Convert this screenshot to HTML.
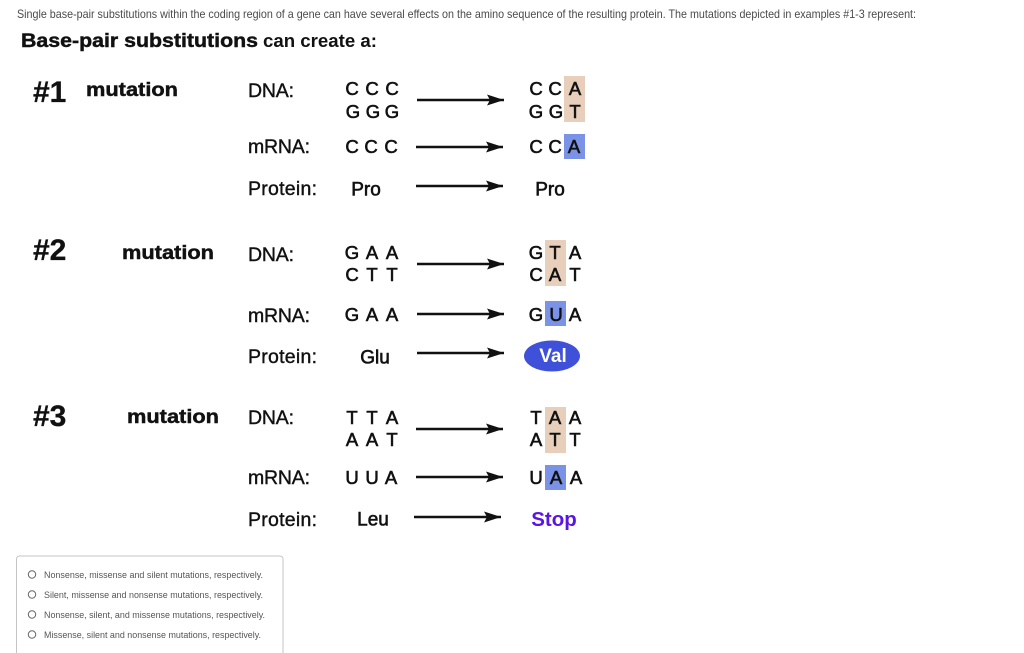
<!DOCTYPE html>
<html><head><meta charset="utf-8"><style>
html,body{margin:0;padding:0;background:#fff;width:1024px;height:653px;overflow:hidden}
svg{display:block}
text{font-family:"Liberation Sans",Arial,sans-serif;fill:#111}
.l{font-size:19.5px;stroke:#111;stroke-width:.4px}
.n{font-size:18.5px;text-anchor:middle;stroke:#111;stroke-width:.6px}
.h{font-size:30px;font-weight:bold;stroke:#111;stroke-width:.3px}
.m{font-size:19px;font-weight:bold;stroke:#111;stroke-width:.45px}
.o{font-size:9px;fill:#555}
.a{stroke:#111;stroke-width:2.4px}
</style></head><body>
<svg width="1024" height="653" viewBox="0 0 1024 653" xmlns="http://www.w3.org/2000/svg">
<defs><marker id="ah" markerUnits="userSpaceOnUse" markerWidth="18" markerHeight="12" refX="17" refY="6" orient="auto"><path d="M0 0.500L17 6L0 11.500L3 6Z" fill="#111"/></marker></defs>
<text x="17" y="18" font-size="12" style="fill:#4a4a4a" textLength="899" lengthAdjust="spacingAndGlyphs">Single base-pair substitutions within the coding region of a gene can have several effects on the amino sequence of the resulting protein. The mutations depicted in examples #1-3 represent:</text>
<text x="21" y="47" class="m" textLength="237" lengthAdjust="spacingAndGlyphs">Base-pair substitutions</text>
<text x="263" y="47" font-size="18" font-weight="bold" textLength="114" lengthAdjust="spacingAndGlyphs">can create a:</text>

<text x="33" y="102" class="h">#1</text><text x="33" y="260" class="h">#2</text><text x="33" y="426" class="h">#3</text>
<text x="86" y="96" class="m" textLength="92" lengthAdjust="spacingAndGlyphs">mutation</text>
<text x="122" y="259" class="m" textLength="92" lengthAdjust="spacingAndGlyphs">mutation</text>
<text x="127" y="423" class="m" textLength="92" lengthAdjust="spacingAndGlyphs">mutation</text>

<g>
<text class="l" x="248" y="97" textLength="46">DNA:</text><text class="l" x="248" y="153" textLength="62">mRNA:</text><text class="l" x="248" y="195" textLength="69">Protein:</text>
<text class="l" x="248" y="261" textLength="46">DNA:</text><text class="l" x="248" y="322" textLength="62">mRNA:</text><text class="l" x="248" y="363" textLength="69">Protein:</text>
<text class="l" x="248" y="424" textLength="46">DNA:</text><text class="l" x="248" y="484" textLength="62">mRNA:</text><text class="l" x="248" y="526" textLength="69">Protein:</text>
</g>

<rect x="564" y="76" width="21" height="46" fill="#e8cfbb"/>
<rect x="564" y="134" width="21" height="25" fill="#7b93e6"/>
<rect x="545" y="240" width="21" height="46" fill="#e8cfbb"/>
<rect x="545" y="301" width="21" height="25" fill="#7b93e6"/>
<rect x="545" y="407" width="21" height="46" fill="#e8cfbb"/>
<rect x="545" y="465" width="21" height="25" fill="#7b93e6"/>

<g>
<text class="n" x="352" y="95">C</text><text class="n" x="372" y="95">C</text><text class="n" x="392" y="95">C</text>
<text class="n" x="353" y="118">G</text><text class="n" x="373" y="118">G</text><text class="n" x="392" y="118">G</text>
<text class="n" x="352" y="153">C</text><text class="n" x="371" y="153">C</text><text class="n" x="391" y="153">C</text>
<text class="n" x="366" y="195.500" style="font-size:19px">Pro</text>
<text class="n" x="352" y="259">G</text><text class="n" x="372" y="259">A</text><text class="n" x="392" y="259">A</text>
<text class="n" x="352" y="281">C</text><text class="n" x="372" y="281">T</text><text class="n" x="392" y="281">T</text>
<text class="n" x="352" y="321">G</text><text class="n" x="372" y="321">A</text><text class="n" x="392" y="321">A</text>
<text class="n" x="375" y="363.500" style="font-size:19px">Glu</text>
<text class="n" x="352" y="424">T</text><text class="n" x="372" y="424">T</text><text class="n" x="392" y="424">A</text>
<text class="n" x="352" y="446">A</text><text class="n" x="372" y="446">A</text><text class="n" x="392" y="446">T</text>
<text class="n" x="352" y="484">U</text><text class="n" x="372" y="484">U</text><text class="n" x="391" y="484">A</text>
<text class="n" x="373" y="525.500" style="font-size:19px">Leu</text>

<text class="n" x="536" y="95">C</text><text class="n" x="555" y="95">C</text><text class="n" x="575" y="95">A</text>
<text class="n" x="536" y="118">G</text><text class="n" x="556" y="118">G</text><text class="n" x="575" y="118">T</text>
<text class="n" x="536" y="153">C</text><text class="n" x="555" y="153">C</text><text class="n" x="574" y="153">A</text>
<text class="n" x="550" y="195.500" style="font-size:19px">Pro</text>
<text class="n" x="536" y="259">G</text><text class="n" x="555" y="259">T</text><text class="n" x="575" y="259">A</text>
<text class="n" x="536" y="281">C</text><text class="n" x="555" y="281">A</text><text class="n" x="575" y="281">T</text>
<text class="n" x="536" y="321">G</text><text class="n" x="556" y="321">U</text><text class="n" x="575" y="321">A</text>
<text class="n" x="536" y="424">T</text><text class="n" x="555" y="424">A</text><text class="n" x="575" y="424">A</text>
<text class="n" x="536" y="446">A</text><text class="n" x="555" y="446">T</text><text class="n" x="575" y="446">T</text>
<text class="n" x="536" y="484">U</text><text class="n" x="556" y="484">A</text><text class="n" x="576" y="484">A</text>
</g>

<ellipse cx="552" cy="356" rx="28" ry="15.5" fill="#3f51d9"/>
<text x="553" y="362" font-size="19" font-weight="bold" text-anchor="middle" style="fill:#fff">Val</text>
<text x="554" y="526" font-size="20.500" font-weight="bold" text-anchor="middle" style="fill:#5a14e6">Stop</text>

<g class="a">
<line x1="417" y1="100" x2="504" y2="100" marker-end="url(#ah)"/>
<line x1="416" y1="147" x2="503" y2="147" marker-end="url(#ah)"/>
<line x1="416" y1="186" x2="503" y2="186" marker-end="url(#ah)"/>
<line x1="417" y1="264" x2="504" y2="264" marker-end="url(#ah)"/>
<line x1="417" y1="314" x2="504" y2="314" marker-end="url(#ah)"/>
<line x1="417" y1="353" x2="504" y2="353" marker-end="url(#ah)"/>
<line x1="416" y1="429" x2="503" y2="429" marker-end="url(#ah)"/>
<line x1="416" y1="477" x2="503" y2="477" marker-end="url(#ah)"/>
<line x1="414" y1="517" x2="501" y2="517" marker-end="url(#ah)"/>
</g>

<path d="M16.500 660V559a3 3 0 0 1 3-3H280a3 3 0 0 1 3 3V660" fill="#fff" stroke="#c4c4c4"/>
<g fill="#fff" stroke="#666">
<circle cx="32" cy="574.500" r="3.700"/><circle cx="32" cy="594.500" r="3.700"/><circle cx="32" cy="614.500" r="3.700"/><circle cx="32" cy="634.500" r="3.700"/>
</g>
<text class="o" x="44" y="578" textLength="219" lengthAdjust="spacingAndGlyphs">Nonsense, missense and silent mutations, respectively.</text>
<text class="o" x="44" y="598" textLength="219" lengthAdjust="spacingAndGlyphs">Silent, missense and nonsense mutations, respectively.</text>
<text class="o" x="44" y="618" textLength="221" lengthAdjust="spacingAndGlyphs">Nonsense, silent, and missense mutations, respectively.</text>
<text class="o" x="44" y="638" textLength="217" lengthAdjust="spacingAndGlyphs">Missense, silent and nonsense mutations, respectively.</text>
</svg>
</body></html>
